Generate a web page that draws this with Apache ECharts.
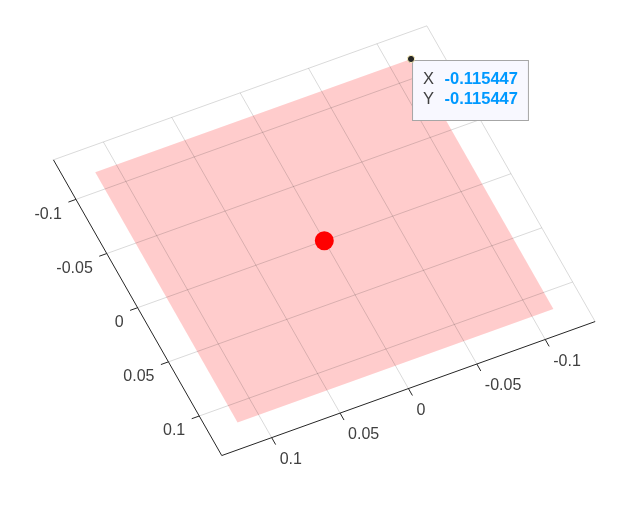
<!DOCTYPE html>
<html>
<head>
<meta charset="utf-8">
<script src="https://cdn.jsdelivr.net/npm/echarts@6/dist/echarts.min.js"></script>
<style>
html,body{margin:0;padding:0;background:#fff;}
#main{width:637px;height:508px;}
</style>
</head>
<body>
<div id="main"></div>
<script>
// ---- data ----
const axisLimits = [-0.1365, 0.1365];
const xTicks = [-0.1, -0.05, 0, 0.05, 0.1];
const yTicks = [-0.1, -0.05, 0, 0.05, 0.1];
const xTickLabels = ['-0.1', '-0.05', '0', '0.05', '0.1'];
const yTickLabels = ['-0.1', '-0.05', '0', '0.05', '0.1'];
const planeX = [-0.115447, 0.115447];
const planeY = [-0.115447, 0.115447];
const pointX = [0];
const pointY = [0];
const tipX = [-0.115447];
const tipY = [-0.115447];

// ---- view (layout) ----
const CENTER = [324.3, 240.7];
const A = [84.15, 147.85];   // screen half-vector along X
const B = [-186.7, 67.0];    // screen half-vector along Y
const HALF = 100;
const FONT = '"Liberation Sans", Arial, Helvetica, sans-serif';
const LIM = axisLimits[1];

function makeProj(api) {
  const o = api.coord([0, 0]);
  const h = api.size([LIM, LIM]);
  return function (u, v) {
    const p = api.coord([u, v]);
    const nx = (p[0] - o[0]) / h[0];
    const ny = (o[1] - p[1]) / h[1];
    return [o[0] + nx * A[0] + ny * B[0], o[1] + nx * A[1] + ny * B[1]];
  };
}
function unit(v) { const l = Math.hypot(v[0], v[1]); return [v[0] / l, v[1] / l]; }
const uA = unit(A), uB = unit(B);

const chart = echarts.init(document.getElementById('main'), null, {renderer: 'canvas'});

const gridColor = 'rgba(0,0,0,0.15)';
const axisColor = '#262626';
const labelColor = '#404040';

const option = {
  animation: false,
  grid: {left: CENTER[0] - HALF, top: CENTER[1] - HALF, width: 2 * HALF, height: 2 * HALF, show: false},
  xAxis: {type: 'value', min: axisLimits[0], max: axisLimits[1], show: false},
  yAxis: {type: 'value', min: axisLimits[0], max: axisLimits[1], show: false},
  series: [
    // plane
    {
      type: 'custom', z: 1, silent: true,
      data: [[planeX[0], planeY[0], planeX[1], planeY[1]]],
      renderItem: function (params, api) {
        const P = makeProj(api);
        const x0 = api.value(0), y0 = api.value(1), x1 = api.value(2), y1 = api.value(3);
        return {
          type: 'polygon',
          shape: {points: [P(x0, y0), P(x1, y0), P(x1, y1), P(x0, y1)]},
          style: {fill: 'rgba(255,0,0,0.2)', stroke: null}
        };
      }
    },
    // grid lines along X ticks (lines of constant X)
    {
      type: 'custom', z: 2, silent: true,
      data: xTicks.map(v => [v]),
      renderItem: function (params, api) {
        const P = makeProj(api);
        const u = api.value(0);
        const a = P(u, -LIM), b = P(u, LIM);
        return {type: 'line', shape: {x1: a[0], y1: a[1], x2: b[0], y2: b[1]},
          style: {stroke: gridColor, lineWidth: 1}};
      }
    },
    // grid lines along Y ticks
    {
      type: 'custom', z: 2, silent: true,
      data: yTicks.map(v => [v]),
      renderItem: function (params, api) {
        const P = makeProj(api);
        const v = api.value(0);
        const a = P(-LIM, v), b = P(LIM, v);
        return {type: 'line', shape: {x1: a[0], y1: a[1], x2: b[0], y2: b[1]},
          style: {stroke: gridColor, lineWidth: 1}};
      }
    },
    // box: back edges (grey) and axis lines (dark)
    {
      type: 'custom', z: 3, silent: true,
      data: [[0]],
      renderItem: function (params, api) {
        const P = makeProj(api);
        const c00 = P(-LIM, -LIM), c10 = P(LIM, -LIM), c01 = P(-LIM, LIM), c11 = P(LIM, LIM);
        const ln = (a, b, col) => ({type: 'line', shape: {x1: a[0], y1: a[1], x2: b[0], y2: b[1]},
          style: {stroke: col, lineWidth: 1}});
        return {type: 'group', children: [
          ln(c00, c01, gridColor),
          ln(c00, c10, gridColor),
          ln(c01, c11, axisColor),
          ln(c11, c10, axisColor)
        ]};
      }
    },
    // X axis ticks & labels (front-left axis, at Y = max)
    {
      type: 'custom', z: 4, silent: true,
      data: xTicks.map((v, i) => [v, i]),
      renderItem: function (params, api) {
        const P = makeProj(api);
        const u = api.value(0), i = api.value(1);
        const p = P(u, LIM);
        const e = [p[0] + uB[0] * 8, p[1] + uB[1] * 8];
        return {type: 'group', children: [
          {type: 'line', shape: {x1: p[0], y1: p[1], x2: e[0], y2: e[1]}, style: {stroke: axisColor, lineWidth: 1}},
          {type: 'text', style: {text: xTickLabels[i], x: p[0] - 14, y: p[1] + 15,
            fill: labelColor, fontSize: 16, fontFamily: FONT, align: 'right', verticalAlign: 'middle'}}
        ]};
      }
    },
    // Y axis ticks & labels (front-right axis, at X = max)
    {
      type: 'custom', z: 4, silent: true,
      data: yTicks.map((v, i) => [v, i]),
      renderItem: function (params, api) {
        const P = makeProj(api);
        const v = api.value(0), i = api.value(1);
        const p = P(LIM, v);
        const e = [p[0] + uA[0] * 8, p[1] + uA[1] * 8];
        return {type: 'group', children: [
          {type: 'line', shape: {x1: p[0], y1: p[1], x2: e[0], y2: e[1]}, style: {stroke: axisColor, lineWidth: 1}},
          {type: 'text', style: {text: yTickLabels[i], x: p[0] + 8, y: p[1] + 22,
            fill: labelColor, fontSize: 16, fontFamily: FONT, align: 'left', verticalAlign: 'middle'}}
        ]};
      }
    },
    // red point
    {
      type: 'custom', z: 5, silent: true,
      data: pointX.map((x, i) => [x, pointY[i]]),
      renderItem: function (params, api) {
        const P = makeProj(api);
        const c = P(api.value(0), api.value(1));
        return {type: 'circle', shape: {cx: c[0], cy: c[1], r: 9.5}, style: {fill: '#ff0000'}};
      }
    },
    // data tip
    {
      type: 'custom', z: 6, silent: true,
      data: tipX.map((x, i) => [x, tipY[i]]),
      renderItem: function (params, api) {
        const P = makeProj(api);
        const x = api.value(0), y = api.value(1);
        const c = P(x, y);
        return {type: 'group', children: [
          {type: 'text', z2: 1, style: {
            text: '{k|X}{v|' + x.toFixed(6) + '}\n{k|Y}{v|' + y.toFixed(6) + '}',
            x: c[0] + 2, y: c[1] + 2, align: 'left', verticalAlign: 'top',
            backgroundColor: '#f8f8ff', borderColor: '#a6a6a6', borderWidth: 1,
            padding: [9, 10, 11, 10],
            rich: {
              k: {fontSize: 16.5, fontFamily: FONT, fill: '#404040', color: '#404040', width: 21.5, lineHeight: 19.5},
              v: {fontSize: 16.5, fontFamily: FONT, fontWeight: 'bold', fill: '#0099ff', color: '#0099ff', lineHeight: 19.5}
            }
          }},
          {type: 'circle', z2: 2, shape: {cx: c[0], cy: c[1], r: 3.6},
            style: {fill: '#262626', stroke: '#fff3c0', lineWidth: 1}}
        ]};
      }
    }
  ]
};
chart.setOption(option);
</script>
</body>
</html>
